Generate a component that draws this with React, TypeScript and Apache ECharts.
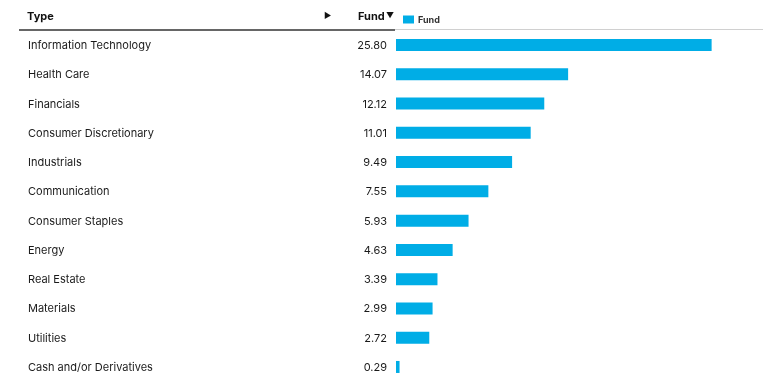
import React, { useEffect, useRef } from "react";
import * as echarts from "echarts";

const categories = [
  "Information Technology",
  "Health Care",
  "Financials",
  "Consumer Discretionary",
  "Industrials",
  "Communication",
  "Consumer Staples",
  "Energy",
  "Real Estate",
  "Materials",
  "Utilities",
  "Cash and/or Derivatives",
];
const fundValues = [25.8, 14.07, 12.12, 11.01, 9.49, 7.55, 5.93, 4.63, 3.39, 2.99, 2.72, 0.29];
const seriesName = "Fund";
const headerType = "Type";
const headerFund = "Fund";

const FONT = "Inter, 'Noto Sans', sans-serif";

export default function App() {
  const ref = useRef<HTMLDivElement>(null);
  useEffect(() => {
    if (!ref.current) return;
    const chart = echarts.init(ref.current, null, { renderer: "svg" });
    chart.setOption({
      animation: false,
      legend: {
        data: [seriesName],
        left: 398,
        top: 10,
        itemWidth: 11,
        itemHeight: 8,
        itemGap: 4,
        icon: "rect",
        textStyle: { fontSize: 9, fontWeight: "bold", color: "#333", fontFamily: FONT, padding: [1, 0, 0, -1] },
      },
      grid: { left: 396, right: 5, top: 30.4, height: 351.2 },
      xAxis: {
        type: "value",
        min: 0,
        max: 30,
        show: false,
      },
      yAxis: {
        type: "category",
        data: categories,
        inverse: true,
        axisLine: { show: false },
        axisTick: { show: false },
        splitLine: { show: false },
        axisLabel: {
          align: "left",
          margin: 368,
          fontSize: 11,
          color: "#1a1a1a",
          fontFamily: FONT,
        },
      },
      series: [
        {
          name: seriesName,
          type: "bar",
          data: fundValues,
          barWidth: 12,
          itemStyle: { color: "#00ADE6" },
          label: {
            show: true,
            position: "left",
            distance: 9,
            fontSize: 11,
            color: "#1a1a1a",
            fontFamily: FONT,
            formatter: (p: any) => p.value.toFixed(2),
          },
        },
      ],
      graphic: [
        {
          type: "text",
          left: 27,
          top: 10,
          style: { text: headerType, fontSize: 11, fontWeight: "bold", fill: "#111", fontFamily: FONT },
        },
        {
          type: "text",
          left: 324,
          top: 11,
          style: { text: "▶", fontSize: 8, fill: "#111", fontFamily: FONT },
        },
        {
          type: "text",
          left: 358,
          top: 10,
          style: { text: headerFund, fontSize: 11, fontWeight: "bold", fill: "#111", fontFamily: FONT },
        },
        {
          type: "text",
          left: 386,
          top: 11,
          style: { text: "▼", fontSize: 8, fill: "#111", fontFamily: FONT },
        },
        {
          type: "line",
          shape: { x1: 19, y1: 30, x2: 395, y2: 30 },
          style: { stroke: "#333", lineWidth: 1.5 },
        },
        {
          type: "line",
          shape: { x1: 395, y1: 29.5, x2: 763, y2: 29.5 },
          style: { stroke: "#d0d0d0", lineWidth: 1 },
        },
      ],
    });
    return () => chart.dispose();
  }, []);
  return <div ref={ref} style={{ position: "fixed", left: 0, top: 0, width: 768, height: 390 }} />;
}
